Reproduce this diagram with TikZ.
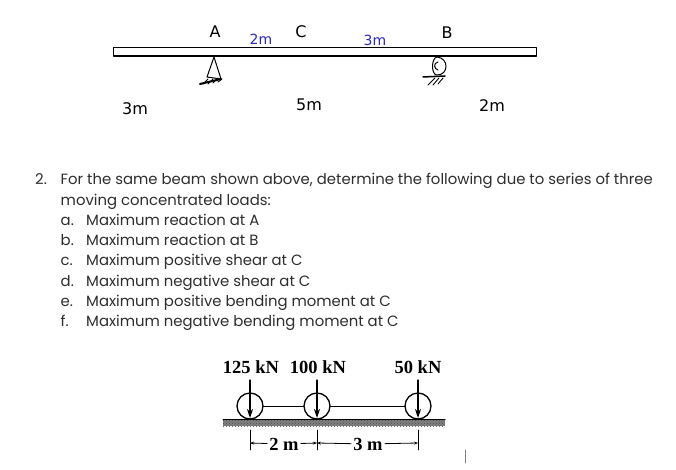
\documentclass[tikz,border=0pt]{standalone}
\usepackage{fontspec}
\setmainfont{Poppins}
\newfontfamily\handfont{DejaVu Sans}
\newfontfamily\loadfont{Liberation Serif}
\usetikzlibrary{patterns,arrows.meta}
\definecolor{inkblue}{RGB}{40,40,190}
\definecolor{textgray}{RGB}{45,45,45}
\tikzset{
	hand/.style={font=\handfont\fontsize{16}{16}\selectfont,inner sep=0pt},
	handblue/.style={font=\handfont\fontsize{14}{14}\selectfont,inner sep=0pt,text=inkblue},
	line/.style={anchor=base west,inner sep=0pt,text=textgray,font=\fontsize{14.87}{16}\selectfont},
	loadlabel/.style={inner sep=0pt,font=\loadfont\fontsize{18.5}{19}\selectfont\bfseries},
	dimlabel/.style={inner sep=2pt,font=\loadfont\fontsize{18.5}{19}\selectfont\bfseries},
	wheel/.style={draw,circle,line width=1.3pt,minimum size=26pt,inner sep=0pt},
	loadarrow/.style={-{Stealth[length=9pt,width=6pt]},line width=1.2pt},
	dimarrow/.style={-{Stealth[length=4pt,width=3pt]},line width=.8pt}
}
\begin{document}
\begin{tikzpicture}[x=1pt,y=-1pt,>=stealth,line join=round,line cap=round]
	\useasboundingbox (0,0) rectangle (676,470);
	% beam
	\draw[line width=1.7pt] (113.5,47.5) rectangle (536.5,56);
	\node[hand] (labA) at (215,32) {A};
	\node[hand] (labC) at (301,32) {C};
	\node[hand] (labB) at (447,33) {B};
	\node[handblue] (dimAC) at (261,39) {2m};
	\node[handblue] (dimCB) at (375,40) {3m};
	\node[hand] (lenL) at (135,109) {3m};
	\node[hand] (lenM) at (309,105) {5m};
	\node[hand] (lenR) at (492,106) {2m};
	% supports
	\draw[line width=1pt] (214,57)--(207,77)--(221,79)--cycle;
	\draw[line width=2pt] (200,84)--(221,79);
	\draw[line width=.9pt] (203,84)--(208,79) (208,84)--(213,79) (213,83)--(218,78) (218,82)--(222,79);
	\draw[line width=1pt] (437,57) ..controls (431,58) and (431,75) .. (437,75) ..controls (449,75) and (449,58) .. (437,57);
	\draw[line width=1pt] (438,62) ..controls (433,63) and (434,69) .. (438,70);
	\draw[line width=1.5pt] (423,77)--(445,76);
	\draw[line width=.9pt] (428,85)--(435,78) (433,85)--(439,78) (438,84)--(443,78);
	% question text
	\node[line] (q) at (35,185) {2.};
	\node[line] (l0) at (60.5,185) {For the same beam shown above, determine the following due to series of three};
	\node[line] (l1) at (60.5,205) {moving concentrated loads:};
	\node[line] (ma) at (60.5,225) {a.};
	\node[line] (ta) at (86,225) {Maximum reaction at A};
	\node[line] (mb) at (60.5,245) {b.};
	\node[line] (tb) at (86,245) {Maximum reaction at B};
	\node[line] (mc) at (60.5,265.5) {c.};
	\node[line] (tc) at (86,265.5) {Maximum positive shear at C};
	\node[line] (md) at (60.5,286) {d.};
	\node[line] (td) at (86,286) {Maximum negative shear at C};
	\node[line] (me) at (60.5,306) {e.};
	\node[line] (te) at (86,306) {Maximum positive bending moment at C};
	\node[line] (mf) at (60.5,326) {f.};
	\node[line] (tf) at (86,326) {Maximum negative bending moment at C};
	% moving loads
	\node[loadlabel] (p1) at (251,367) {125 kN};
	\node[loadlabel] (p2) at (318,367) {100 kN};
	\node[loadlabel] (p3) at (418,367) {50 kN};
	\node[wheel] (w1) at (250,406) {};
	\node[wheel] (w2) at (317,406) {};
	\node[wheel] (w3) at (418,406) {};
	\draw[line width=1pt] (w1)--(w2) (w2)--(w3);
	\foreach \w/\xx in {w1/250,w2/317,w3/418}{
		\coordinate (\w top) at (\xx,380);
		\coordinate (\w bot) at (\xx,418);
		\draw[loadarrow] (\w top)--(\w bot);
	}
	\fill[gray] (223,419) rectangle (445,426);
	\fill[pattern=crosshatch dots,pattern color=black!70] (223,419) rectangle (445,426);
	\draw[line width=1pt] (223,419)--(445,419);
	% dimensions
	\node[dimlabel] (d1) at (284,444) {2 m};
	\node[dimlabel] (d2) at (368,444) {3 m};
	\coordinate (t1) at (250,443);
	\coordinate (t2) at (317,443);
	\coordinate (t3) at (418,443);
	\draw[line width=.9pt] (250,430)--(250,450) (317,430)--(317,450) (418,430)--(418,450);
	\draw[dimarrow] (d1)--(t1);
	\draw[dimarrow] (d1)--(t2);
	\draw[dimarrow] (d2)--(t2);
	\draw[dimarrow] (d2)--(t3);
	\draw[gray,line width=.7pt] (465,450)--(465,463);
\end{tikzpicture}
\end{document}
